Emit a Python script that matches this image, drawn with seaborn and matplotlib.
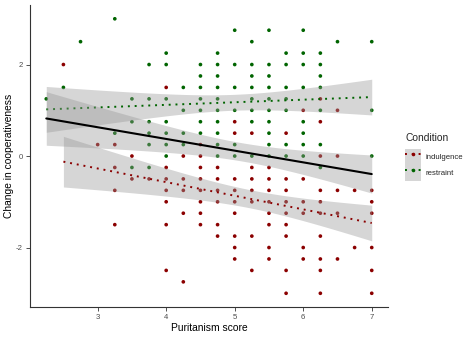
import numpy as np
import pandas as pd
import matplotlib
matplotlib.use("Agg")
import matplotlib.pyplot as plt
import seaborn as sns
from matplotlib.lines import Line2D
from matplotlib.patches import Patch
from matplotlib.legend_handler import HandlerTuple

# Puritanism score / change in cooperativeness, restraint condition
restraint_x = [
    2.25, 2.5, 2.75, 3.25, 3.25, 3.5, 3.5, 3.5,
    3.75, 3.75, 3.75, 3.75, 3.75, 3.75,
    4.0, 4.0, 4.0, 4.0, 4.0, 4.0, 4.0,
    4.25, 4.25, 4.25, 4.25,
    4.5, 4.5, 4.5, 4.5, 4.5, 4.5, 4.5,
    4.75, 4.75, 4.75, 4.75, 4.75, 4.75, 4.75, 4.75, 4.75, 4.75,
    5.0, 5.0, 5.0, 5.0, 5.0, 5.0,
    5.25, 5.25, 5.25, 5.25, 5.25, 5.25, 5.25, 5.25,
    5.5, 5.5, 5.5, 5.5, 5.5, 5.5, 5.5, 5.5, 5.5, 5.5,
    5.75, 5.75, 5.75, 5.75, 5.75, 5.75, 5.75,
    6.0, 6.0, 6.0, 6.0, 6.0, 6.0, 6.0, 6.0,
    6.25, 6.25, 6.25, 6.25, 6.25, 6.25, 6.25,
    6.5,
    7.0, 7.0, 7.0,
]
restraint_y = [
    1.25, 1.5, 2.5, 3.0, 0.5, 1.25, 0.75, -0.25,
    2.0, 1.25, 0.75, 0.5, 0.25, -0.25,
    2.25, 2.0, 1.25, 0.75, 0.5, 0.25, 0.0,
    1.5, 1.0, 0.5, 0.25,
    2.0, 1.75, 1.5, 1.25, 1.0, 0.75, 0.5,
    2.25, 2.0, 1.75, 1.5, 1.25, 1.0, 0.75, 0.5, 0.25, 0.0,
    2.75, 2.0, 1.5, 1.0, 0.25, 0.0,
    2.5, 2.0, 1.75, 1.5, 1.25, 1.0, 0.75, 0.0,
    2.75, 2.0, 1.75, 1.5, 1.25, 1.0, 0.75, 0.5, 0.25, 0.0,
    2.25, 2.0, 1.5, 1.25, 1.0, 0.25, 0.0,
    2.75, 2.25, 2.0, 1.5, 0.75, 0.5, 0.25, 0.0,
    2.25, 2.0, 1.75, 1.5, 1.0, 0.25, -0.25,
    2.5,
    2.5, 1.0, 0.0,
]

# Puritanism score / change in cooperativeness, indulgence condition
indulgence_x = [
    2.5, 3.0,
    3.25, 3.25, 3.25, 3.25,
    3.5, 3.5, 3.75,
    4.0, 4.0, 4.0, 4.0, 4.0, 4.0, 4.0,
    4.25, 4.25, 4.25, 4.25, 4.25,
    4.5, 4.5, 4.5, 4.5, 4.5, 4.5, 4.5, 4.5,
    4.75, 4.75, 4.75, 4.75, 4.75, 4.75,
    5.0, 5.0, 5.0, 5.0, 5.0, 5.0, 5.0, 5.0, 5.0,
    5.25, 5.25, 5.25, 5.25, 5.25, 5.25, 5.25,
    5.5, 5.5, 5.5, 5.5, 5.5, 5.5, 5.5, 5.5,
    5.75, 5.75, 5.75, 5.75, 5.75, 5.75, 5.75, 5.75, 5.75,
    6.0, 6.0, 6.0, 6.0, 6.0, 6.0,
    6.25, 6.25, 6.25, 6.25, 6.25, 6.25, 6.25, 6.25, 6.25, 6.25,
    6.5, 6.5, 6.5, 6.5, 6.5,
    6.75, 6.75,
    7.0, 7.0, 7.0, 7.0, 7.0, 7.0,
]
indulgence_y = [
    2.0, 0.25,
    0.25, -0.25, -0.75, -1.5,
    0.0, -0.5, -0.5,
    1.5, -0.25, -0.5, -0.75, -1.0, -1.5, -2.5,
    0.0, -0.5, -0.75, -1.25, -2.75,
    0.25, 0.0, -0.25, -0.5, -0.75, -1.0, -1.25, -1.5,
    -0.25, -0.5, -0.75, -1.0, -1.5, -1.75,
    0.75, 0.5, -0.5, -0.75, -1.0, -1.25, -1.75, -2.0, -2.25,
    0.5, -0.25, -0.5, -0.75, -1.0, -1.75, -2.5,
    -0.25, -0.5, -0.75, -1.0, -1.25, -1.5, -2.0, -2.25,
    0.5, -0.5, -0.75, -1.0, -1.25, -1.5, -1.75, -2.5, -3.0,
    1.0, -0.5, -1.0, -1.25, -2.0, -2.25,
    1.25, 0.75, 0.0, -0.75, -1.0, -1.25, -1.75, -2.25, -2.5, -3.0,
    1.0, 0.0, -0.75, -1.25, -2.25,
    -0.75, -2.0,
    -0.75, -1.0, -1.25, -2.0, -2.5, -3.0,
]

conditions = ["indulgence", "restraint"]
palette = {"indulgence": "#8B0000", "restraint": "#006400"}
x_ticks = [3, 4, 5, 6, 7]
y_ticks = [-2, 0, 2]

df = pd.concat([
    pd.DataFrame({"puritanism": indulgence_x, "change": indulgence_y,
                  "condition": "indulgence"}),
    pd.DataFrame({"puritanism": restraint_x, "change": restraint_y,
                  "condition": "restraint"}),
], ignore_index=True)

sns.set_theme(style="ticks")
plt.rcParams["font.family"] = ["Liberation Sans", "DejaVu Sans"]

DOTTED = (0, (1.0, 2.5))


def lm_band(x, y, n=80):
    """Least-squares line with a 95% confidence band over the range of x."""
    x = np.asarray(x, float)
    y = np.asarray(y, float)
    k = len(x)
    slope, intercept = np.polyfit(x, y, 1)
    resid = y - (intercept + slope * x)
    s = np.sqrt(np.sum(resid ** 2) / (k - 2))
    sxx = np.sum((x - x.mean()) ** 2)
    dof = k - 2
    z = 1.959964
    t = (z + (z ** 3 + z) / (4 * dof)
         + (5 * z ** 5 + 16 * z ** 3 + 3 * z) / (96 * dof ** 2))
    grid = np.linspace(x.min(), x.max(), n)
    fit = intercept + slope * grid
    se = s * np.sqrt(1.0 / k + (grid - x.mean()) ** 2 / sxx)
    return grid, fit, fit - t * se, fit + t * se


fig, ax = plt.subplots(figsize=(4.74, 3.38), dpi=100)
fig.subplots_adjust(left=0.0633, right=0.8186, bottom=0.0917, top=0.985)

sns.scatterplot(data=df, x="puritanism", y="change", hue="condition",
                palette=palette, s=7, linewidth=0, legend=False, ax=ax,
                zorder=2)

band_color = "#999999"
for cond in conditions:
    sub = df[df["condition"] == cond]
    gx, gy, lo, hi = lm_band(sub["puritanism"], sub["change"])
    ax.fill_between(gx, lo, hi, color=band_color, alpha=0.4, linewidth=0,
                    zorder=3)
    ax.plot(gx, gy, color=palette[cond], linewidth=1.4, linestyle=DOTTED,
            dash_capstyle="butt", zorder=4)

gx, gy, lo, hi = lm_band(df["puritanism"], df["change"])
ax.fill_between(gx, lo, hi, color=band_color, alpha=0.4, linewidth=0, zorder=5)
ax.plot(gx, gy, color="black", linewidth=1.5, zorder=6)

ax.set_xlim(2.0125, 7.2375)
ax.set_ylim(-3.3, 3.3)
ax.set_xticks(x_ticks)
ax.set_yticks(y_ticks)
ax.set_xticklabels([str(v) for v in x_ticks])
ax.set_yticklabels([str(v) for v in y_ticks])
ax.tick_params(axis="both", length=3, width=0.6, color="#333333",
               labelsize=5.6, labelcolor="#4D4D4D", pad=2)
for side in ("top", "right"):
    ax.spines[side].set_visible(False)
for side in ("left", "bottom"):
    ax.spines[side].set_color("#333333")
    ax.spines[side].set_linewidth(0.8)

ax.set_xlabel("Puritanism score", fontsize=7.4, color="black")
ax.set_ylabel("Change in cooperativeness", fontsize=7.4, color="black")
ax.xaxis.set_label_coords(0.5, -0.054)
ax.yaxis.set_label_coords(-0.046, 0.5)

# Legend: title set as its own text, keys are a grey box with point + dotted line
fig.text(405 / 474, 1 - 138 / 338, "Condition", fontsize=7.4,
         ha="left", va="center")
handles = []
for cond in conditions:
    handles.append((
        Patch(facecolor="#D6D6D6", edgecolor="none"),
        Line2D([], [], color=palette[cond], linewidth=1.4,
               linestyle=DOTTED, dash_capstyle="butt"),
        Line2D([], [], color=palette[cond], linestyle="none", marker="o",
               markersize=2.6, markeredgewidth=0),
    ))
leg = fig.legend(handles, conditions,
                 handler_map={tuple: HandlerTuple(ndivide=1, pad=0)},
                 loc="upper left", bbox_to_anchor=(405 / 474, 1 - 149 / 338),
                 frameon=False, fontsize=5.6,
                 handlelength=2.0, handleheight=2.8, labelspacing=0.0,
                 handletextpad=0.65, borderpad=0, borderaxespad=0)

fig.savefig("out.png", dpi=100)
